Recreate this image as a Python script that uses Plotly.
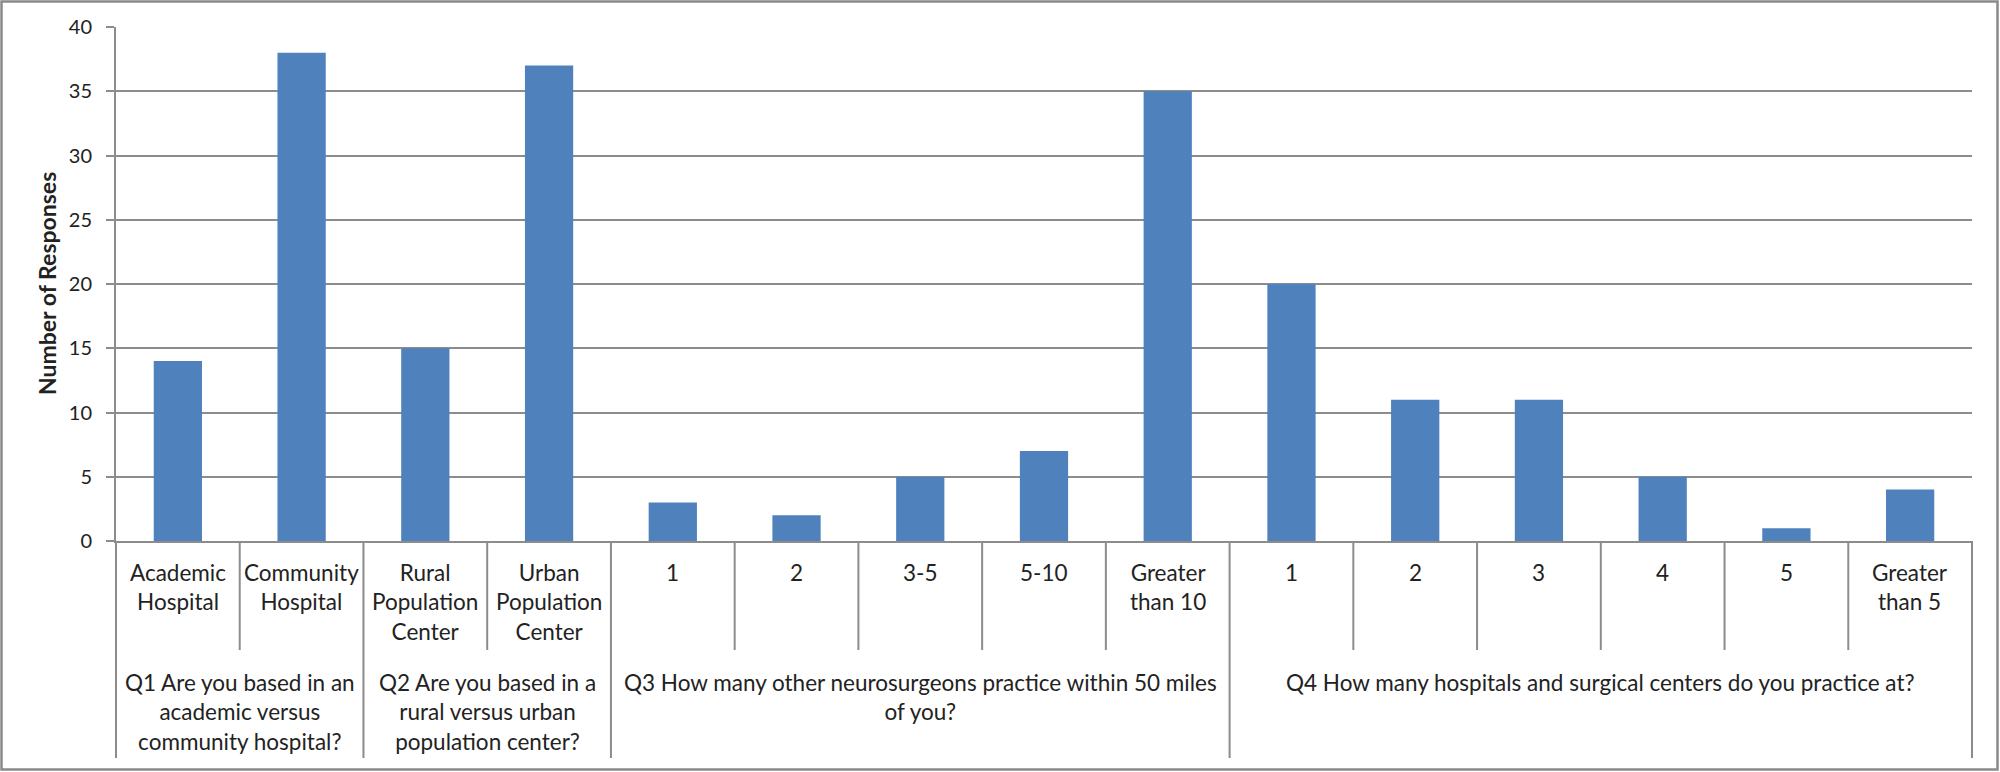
import plotly.graph_objects as go

# ---- data ----
categories = [
    "Academic\nHospital", "Community\nHospital",
    "Rural\nPopulation\nCenter", "Urban\nPopulation\nCenter",
    "1", "2", "3-5", "5-10", "Greater\nthan 10",
    "1", "2", "3", "4", "5", "Greater\nthan 5",
]
values = [14, 38, 15, 37, 3, 2, 5, 7, 35, 20, 11, 11, 5, 1, 4]
groups = [
    "Q1 Are you based in an\nacademic versus\ncommunity hospital?",
    "Q2 Are you based in a\nrural versus urban\npopulation center?",
    "Q3 How many other neurosurgeons practice within 50 miles\nof you?",
    "Q4 How many hospitals and surgical centers do you practice at?",
]
group_sizes = [2, 2, 5, 6]
y_ticks = [0, 5, 10, 15, 20, 25, 30, 35, 40]
y_title = "Number of Responses"

# ---- layout geometry (pixels) ----
W, H = 2000, 772
L, R, T, B = 116, 28, 27, 231
PW = W - L - R
PH = H - T - B
FONT = "Lato, Roboto, sans-serif"
TXT = "#222222"
GRID = "#8c8c8c"
BLUE = "#4F81BD"


def px_x(p):
    return (p - L) / PW


def px_y(p):
    return (H - B - p) / PH


x = list(range(len(categories)))

fig = go.Figure(go.Bar(x=x, y=values, marker=dict(color=BLUE, line=dict(width=0))))

annotations = []
shapes = []

# category labels
for xi, lab in zip(x, categories):
    annotations.append(dict(
        x=xi, y=0, xref="x", yref="paper", yanchor="top", xanchor="center",
        yshift=-16, text=lab.replace("\n", "<br>"), showarrow=False,
        font=dict(family=FONT, size=22.5, color=TXT),
    ))

# group labels and separators
start = 0
bounds = [0]
for g, n in zip(groups, group_sizes):
    center = start + (n - 1) / 2
    annotations.append(dict(
        x=center, y=0, xref="x", yref="paper", yanchor="top", xanchor="center",
        yshift=-126, text=g.replace("\n", "<br>"), showarrow=False,
        font=dict(family=FONT, size=22.5, color=TXT),
    ))
    start += n
    bounds.append(start)

group_bottom = px_y(758)
cat_bottom = px_y(650)
for i in range(1, len(categories)):
    if i in bounds:
        continue
    shapes.append(dict(type="line", xref="x", yref="paper", x0=i - 0.5, x1=i - 0.5,
                       y0=0, y1=cat_bottom, line=dict(color=GRID, width=2)))
for b in bounds:
    if b == 0:
        xs, xr = 0, "paper"
    elif b == len(categories):
        xs, xr = 1, "paper"
    else:
        xs, xr = b - 0.5, "x"
    shapes.append(dict(type="line", xref=xr, yref="paper", x0=xs, x1=xs,
                       y0=0, y1=group_bottom, line=dict(color=GRID, width=2)))

# outer border
shapes.append(dict(type="rect", xref="paper", yref="paper",
                   x0=px_x(1.5), x1=px_x(1997.5), y0=px_y(769.5), y1=px_y(1.5),
                   line=dict(color="#8a8a8a", width=2.5), fillcolor="rgba(0,0,0,0)"))

# y-axis title
annotations.append(dict(
    x=px_x(47), y=0.5, xref="paper", yref="paper", xanchor="center", yanchor="middle",
    text="<b>" + y_title + "</b>", textangle=-90, showarrow=False,
    font=dict(family=FONT, size=23, color=TXT),
))

fig.update_layout(
    width=W, height=H,
    margin=dict(l=L, r=R, t=T, b=B, pad=0),
    paper_bgcolor="white", plot_bgcolor="white",
    showlegend=False,
    bargap=0.61,
    annotations=annotations,
    shapes=shapes,
    xaxis=dict(range=[-0.5, len(categories) - 0.5], showticklabels=False, showgrid=False,
               zeroline=False, showline=True, linecolor=GRID, linewidth=2, ticks="",
               fixedrange=True),
    yaxis=dict(range=[0, 40], tickvals=y_ticks, showgrid=True, gridcolor=GRID, gridwidth=2,
               zeroline=False, showline=True, linecolor=GRID, linewidth=2,
               ticks="outside", ticklen=8, tickwidth=2, tickcolor=GRID,
               ticklabelstandoff=10,
               tickfont=dict(family=FONT, size=20, color=TXT), fixedrange=True),
)

fig.write_html(
    "out.html",
    config={"displayModeBar": False},
    post_script="document.body.style.margin='0';document.body.style.overflow='hidden';",
)
